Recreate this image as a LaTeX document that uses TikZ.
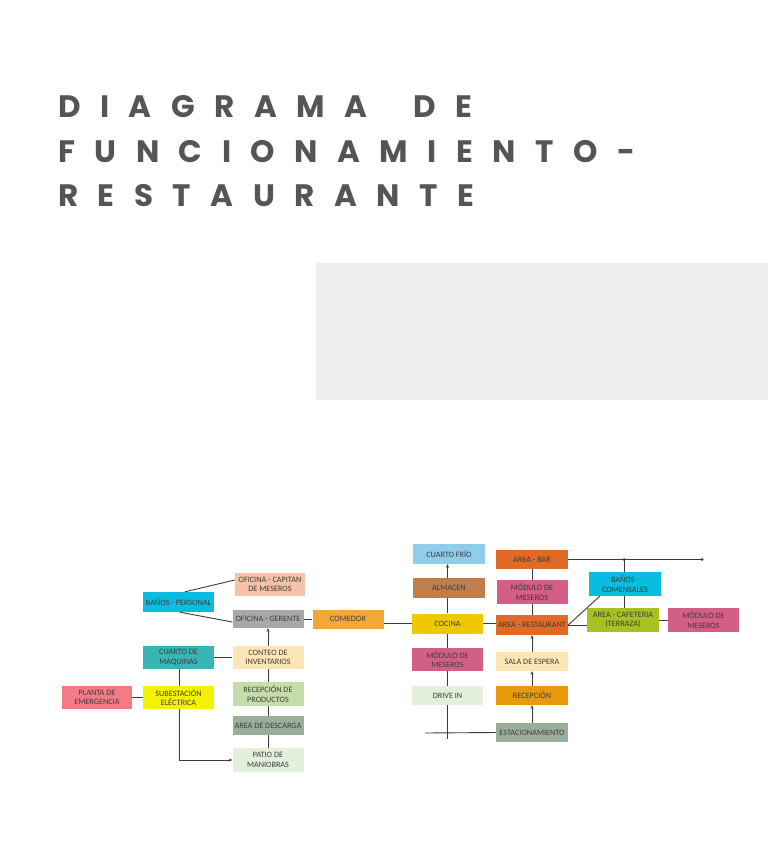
\documentclass[tikz,border=0pt]{standalone}
\usepackage{fontspec}
\usetikzlibrary{arrows.meta,backgrounds,calc}
\newfontfamily\titlefont[LetterSpace=63]{Poppins}
\newfontfamily\boxfont{Carlito}
\definecolor{titlegray}{HTML}{555555}
\definecolor{panel}{HTML}{EEEEEE}
\definecolor{txt}{HTML}{3C3C3C}
\definecolor{ln}{HTML}{3A3A3A}
\definecolor{cCapitan}{HTML}{F4C2A4}
\definecolor{cCyan}{HTML}{0ABCDF}
\definecolor{cGerente}{HTML}{A8A8A8}
\definecolor{cComedor}{HTML}{F0A83A}
\definecolor{cTeal}{HTML}{3AB5B5}
\definecolor{cPeach}{HTML}{FDE5B5}
\definecolor{cPlanta}{HTML}{F27B86}
\definecolor{cYellow}{HTML}{F5F200}
\definecolor{cLGreen}{HTML}{C5DDA9}
\definecolor{cGGreen}{HTML}{9AAF9B}
\definecolor{cVLGreen}{HTML}{E3F0DB}
\definecolor{cFrio}{HTML}{8FCDEB}
\definecolor{cBrown}{HTML}{C07E4A}
\definecolor{cCocina}{HTML}{EFC900}
\definecolor{cPink}{HTML}{D35E87}
\definecolor{cOrange}{HTML}{E89A0C}
\definecolor{cRed}{HTML}{E06A28}
\definecolor{cOlive}{HTML}{A9C022}
\tikzset{
  box/.style={rectangle, inner sep=0pt, minimum width=71pt, minimum height=20pt,
    align=center, text=txt, font=\boxfont\fontsize{8.2}{9.6}\selectfont},
  conn/.style={draw=ln, line width=0.9pt},
  arr/.style={conn, -{Stealth[length=3.5pt,width=3pt]}},
  titleline/.style={anchor=base west, inner sep=0pt, text=titlegray,
    font=\titlefont\bfseries\fontsize{31}{31}\selectfont}
}
\begin{document}
\begin{tikzpicture}[x=1pt,y=-1pt]
\useasboundingbox (0,0) rectangle (768,862);
\fill[white] (0,0) rectangle (768,862);
% title
\node[titleline] (t1) at (58,117) {DIAGRAMA\hspace*{46pt}DE};
\node[titleline] (t2) at (58,162) {FUNCIONAMIENTO-};
\node[titleline] (t3) at (58,206) {RESTAURANTE};
% gray panel
\fill[panel] (316,263) rectangle (768,400);
% left cluster
\node[box, fill=cCapitan, minimum width=70pt, minimum height=23pt] (capitan) at (270,584.5) {OFICINA - CAPITAN\\DE MESEROS};
\node[box, fill=cCyan] (banosp) at (178.5,602) {BAÑOS - PERSONAL};
\node[box, fill=cGerente, minimum height=18pt] (gerente) at (268,619) {OFICINA - GERENTE};
\node[box, fill=cComedor, minimum height=19pt] (comedor) at (348,619) {COMEDOR};
\node[box, fill=cTeal, minimum height=23pt] (maquinas) at (178.5,657.5) {CUARTO DE\\MAQUINAS};
\node[box, fill=cPeach, minimum height=23pt] (conteo) at (268,657.5) {CONTEO DE\\INVENTARIOS};
\node[box, fill=cPlanta, minimum width=70pt, minimum height=23pt] (planta) at (97,697.5) {PLANTA DE\\EMERGENCIA};
\node[box, fill=cYellow, minimum height=23pt] (subest) at (178.5,697.5) {SUBESTACIÓN\\ELÉCTRICA};
\node[box, fill=cLGreen, minimum height=24pt] (recepprod) at (268,694) {RECEPCIÓN DE\\PRODUCTOS};
\node[box, fill=cGGreen, minimum height=19pt] (descarga) at (268,725.5) {AREA DE DESCARGA};
\node[box, fill=cVLGreen, minimum height=24pt] (patio) at (268,760) {PATIO DE\\MANIOBRAS};
% middle column
\node[box, fill=cFrio, minimum width=72pt] (cfrio) at (449,554) {CUARTO FRÍO};
\node[box, fill=cBrown, minimum width=72pt] (almacen) at (449,588) {ALMACEN};
\node[box, fill=cCocina] (cocina) at (447.5,623.5) {COCINA};
\node[box, fill=cPink, minimum height=23pt] (modulo1) at (447.5,659.5) {MÓDULO DE\\MESEROS};
\node[box, fill=cVLGreen, minimum height=19pt] (drive) at (447.5,695.5) {DRIVE IN};
% right-middle column
\node[box, fill=cGGreen, minimum width=72pt, minimum height=19pt] (estac) at (532,732.5) {ESTACIONAMIENTO};
\node[box, fill=cOrange, minimum width=72pt, minimum height=19pt] (recepcion) at (532,695.5) {RECEPCIÓN};
\node[box, fill=cPeach, minimum width=72pt, minimum height=19pt] (sala) at (532,661.5) {SALA DE ESPERA};
\node[box, fill=cRed, minimum width=72pt] (restaurant) at (532,625) {AREA - RESTAURANT};
\node[box, fill=cPink, minimum height=24pt] (modulo2) at (532,592) {MÓDULO DE\\MESEROS};
\node[box, fill=cRed, minimum width=72pt, minimum height=19pt] (bar) at (532,559.5) {AREA - BAR};
% right cluster
\node[box, fill=cCyan, minimum width=72pt, minimum height=24pt] (banosc) at (625,584) {BAÑOS -\\COMENSALES};
\node[box, fill=cOlive, minimum width=72pt, minimum height=24pt] (cafe) at (623,620) {AREA - CAFETERIA\\(TERRAZA)};
\node[box, fill=cPink, minimum height=24pt] (modulo3) at (703.5,620) {MÓDULO DE\\MESEROS};
% free ends
\coordinate (driveend) at (447.5,739);
\coordinate (estacleft) at (425,733);
\coordinate (barend) at (702,559.5);
\coordinate (junc) at (624,559.5);
\begin{pgfonlayer}{background}
\draw[arr] (gerente.center) -- ([yshift=1.5pt]capitan.north);
\end{pgfonlayer}
% connectors
\draw[conn] ([xshift=6.5pt]banosp.north) -- ([yshift=4.5pt]capitan.west);
\draw[conn] ([xshift=1.5pt]banosp.south) -- ([yshift=-3pt]gerente.west);
\draw[arr] (conteo.north) -- (gerente.south);
\draw[conn] (gerente.east) -- (comedor.west);
\draw[conn] (maquinas.east) -- (conteo.west);
\draw[conn] ([xshift=1pt]maquinas.south) -- ([xshift=1pt]subest.north);
\draw[conn] (planta.east) -- (subest.west);
\draw[conn] (conteo.south) -- (recepprod.north);
\draw[conn] (recepprod.south) -- (descarga.north);
\draw[conn] (descarga.south) -- (patio.north);
\draw[arr] ([xshift=1pt]subest.south) |- (patio.west);
\draw[conn] (comedor.east |- cocina.west) -- (cocina.west);
\draw[conn] (cocina.north) -- (almacen.south -| cocina.north);
\draw[arr] ([xshift=-1.5pt]almacen.north) -- ([xshift=-1.5pt]cfrio.south);
\draw[conn] (cocina.south) -- (modulo1.north);
\draw[conn] (modulo1.south) -- (drive.north);
\draw[conn] (drive.south) -- (driveend);
\draw[conn] (estacleft) -- (estac.west);
\draw[arr] (estac.north) -- (recepcion.south);
\draw[arr] (recepcion.north) -- (sala.south);
\draw[arr] (sala.north) -- (restaurant.south);
\draw[conn] (cocina.east) -- (cocina.east -| restaurant.west);
\draw[conn] (restaurant.north) -- (modulo2.south);
\draw[conn] (modulo2.north) -- (bar.south);
\draw[conn] (bar.east) -- (barend);
\fill[ln] (barend) circle (1.5pt);
\fill[ln] (junc) circle (1.5pt);
\draw[conn] (junc) -- (junc |- banosc.north);
\draw[conn] (junc |- banosc.south) -- (junc |- cafe.north);
\draw[conn] (cafe.east) -- (modulo3.west);
\draw[conn] (restaurant.east) -- (restaurant.east -| cafe.west);
\draw[conn] (restaurant.east) -- ([xshift=11pt]banosc.south west);
\end{tikzpicture}
\end{document}
